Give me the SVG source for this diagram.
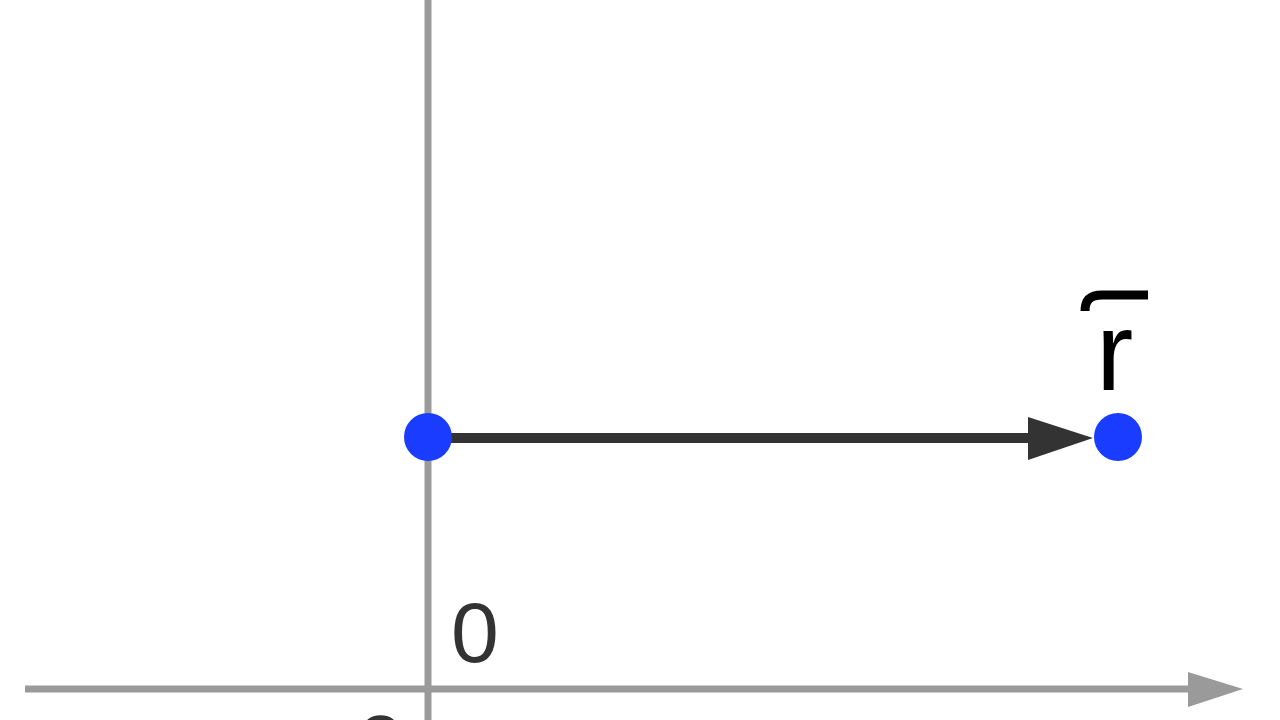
<svg xmlns="http://www.w3.org/2000/svg" width="1280" height="720" viewBox="0 0 1280 720">
<style>
.axis{stroke:#9a9a9a;stroke-width:7;fill:none}
.axhead{fill:#9a9a9a}
.vec{stroke:#333333;stroke-width:10;fill:none}
.vechead{fill:#333333}
.pt{fill:#1a3cff}
.lbl{font-family:"Liberation Sans",Arial,sans-serif;fill:#333333}
</style>
<rect width="1280" height="720" fill="#ffffff"/>
<g id="axes">
<line class="axis" x1="428" y1="0" x2="428" y2="720"/>
<line class="axis" x1="25" y1="689" x2="1192" y2="689"/>
<polygon class="axhead" points="1188,672 1243,689 1188,707"/>
</g>
<g id="labels">
<text class="lbl" x="451" y="662" font-size="86">0</text>
<text class="lbl" x="358" y="771" font-size="80">2</text>
</g>
<g id="connectors">
<line class="vec" x1="428" y1="438" x2="1032" y2="438"/>
<polygon class="vechead" points="1028,417 1093,438 1028,460"/>
</g>
<g id="origin">
<circle class="pt" cx="428" cy="437" r="24"/>
</g>
<g id="r">
<circle class="pt" cx="1118" cy="437" r="24"/>
<text x="1096" y="390" font-size="112" font-family="'Liberation Sans',Arial,sans-serif" fill="#000000">r</text>
<path d="M1085,311 C1085,300 1090,295 1102,295 L1148,295" stroke="#000000" stroke-width="9" fill="none"/>
</g>
</svg>
